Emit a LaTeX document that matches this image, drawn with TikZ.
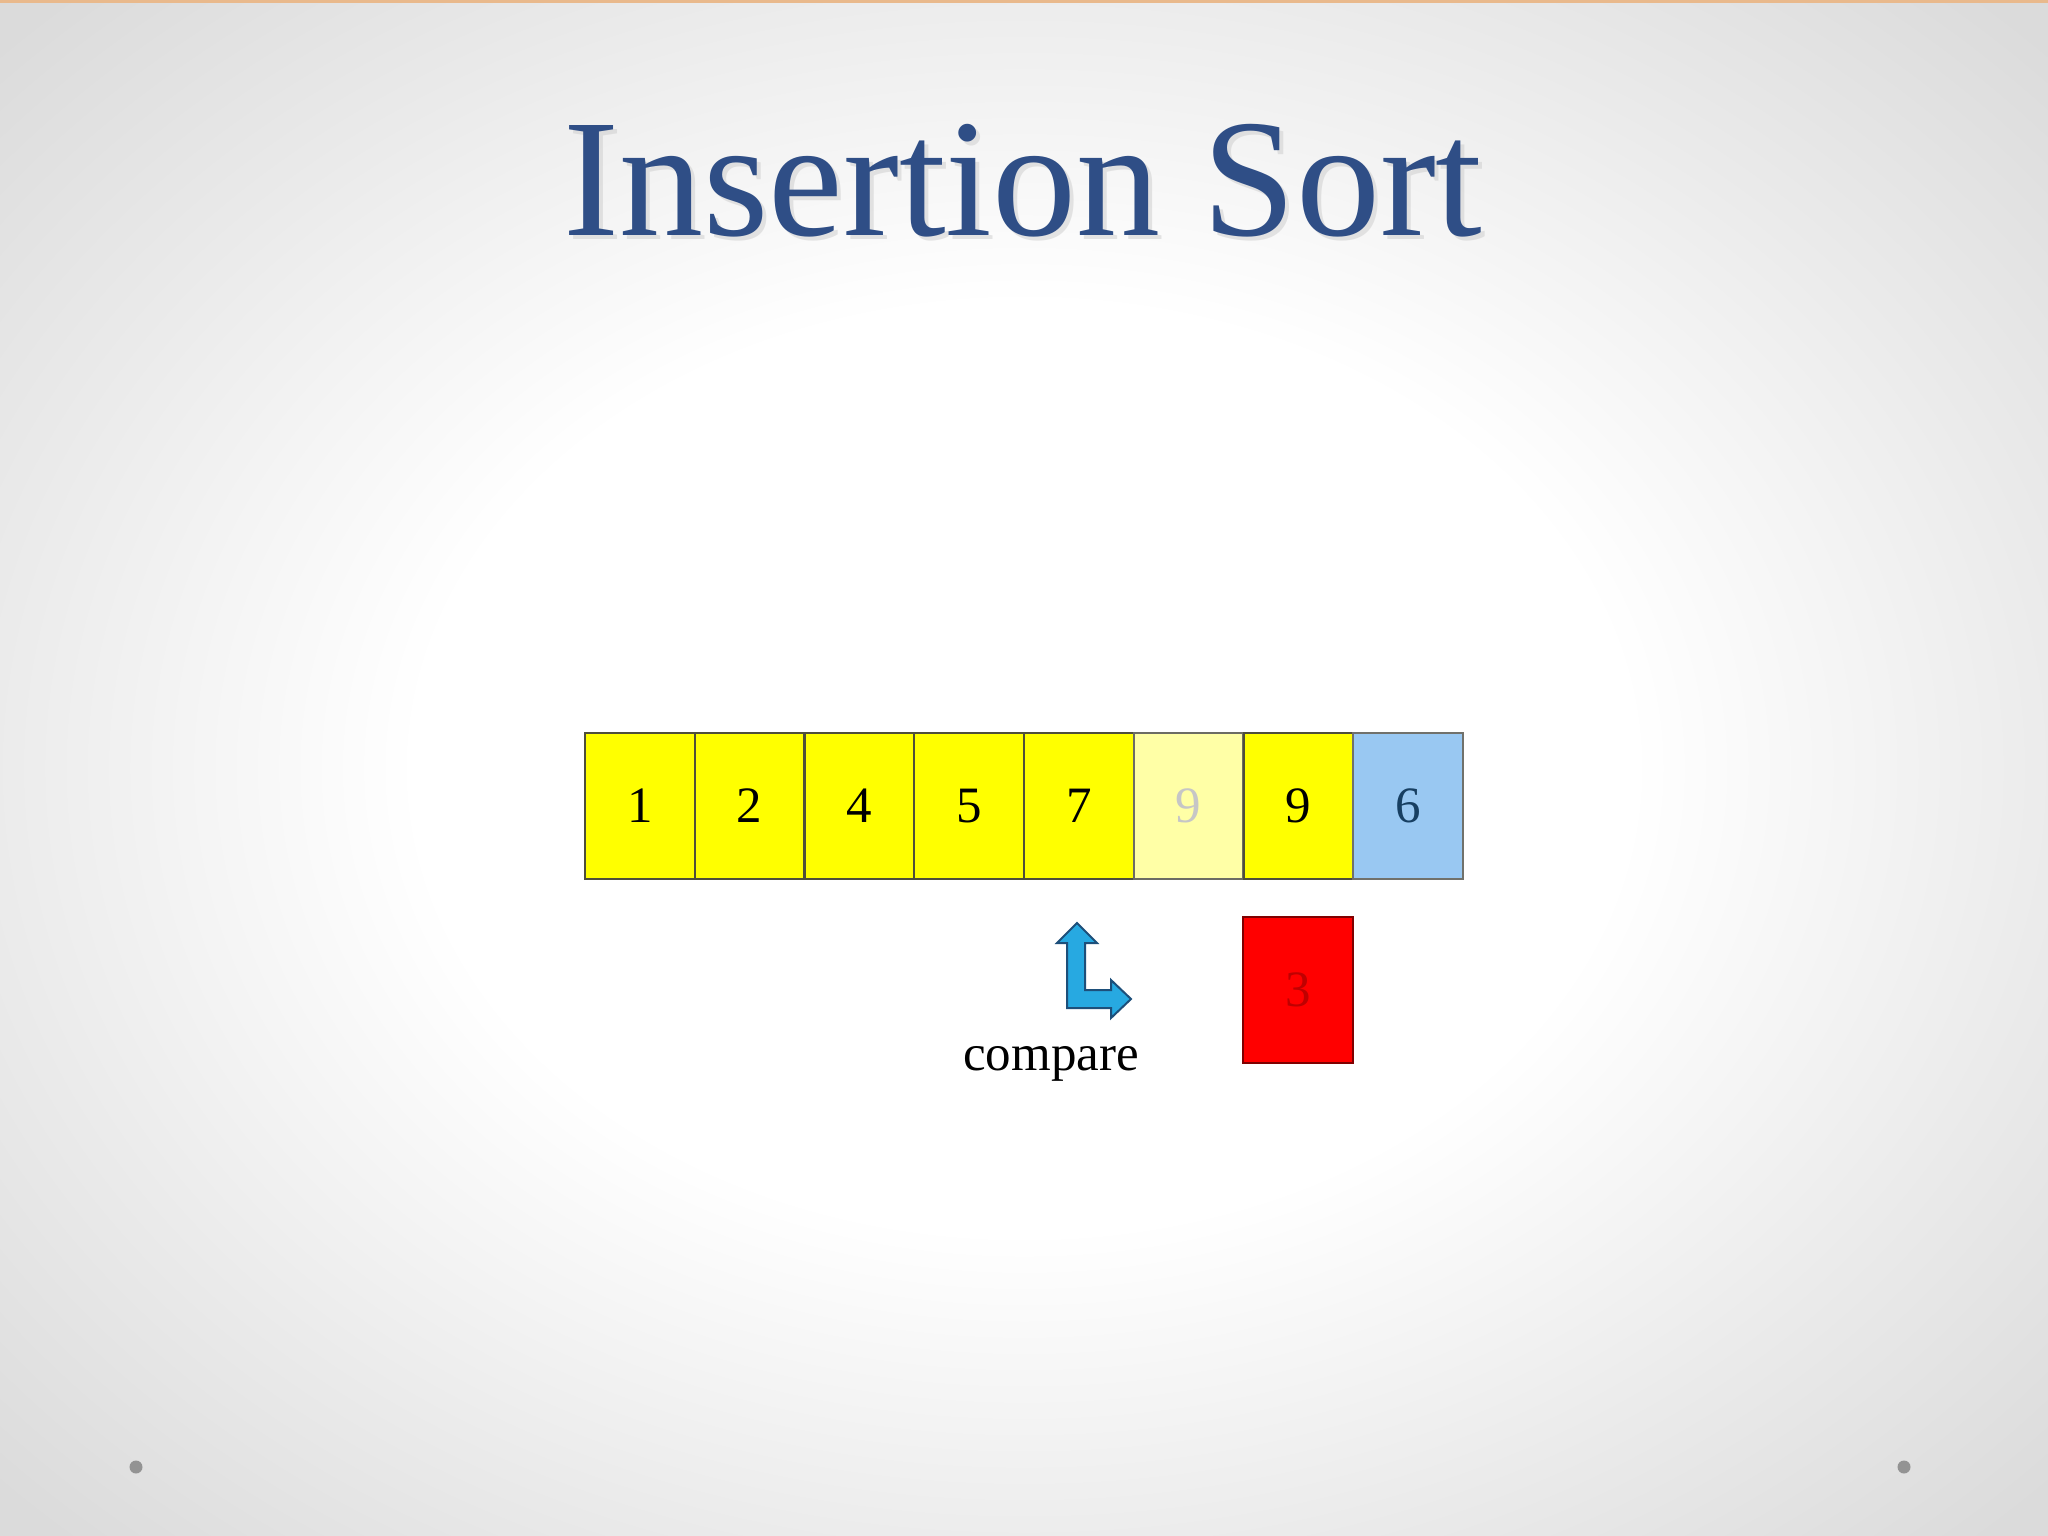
\documentclass[tikz,border=0pt]{standalone}
\usepackage{fontspec}
\setmainfont{Liberation Serif}
\definecolor{titleblue}{HTML}{2F4E86}
\definecolor{cellyellow}{HTML}{FFFF00}
\definecolor{paleyellow}{HTML}{FFFFA6}
\definecolor{cellblue}{HTML}{99C8F2}
\definecolor{cellred}{HTML}{FF0000}
\definecolor{edgecol}{HTML}{4F4F3A}
\definecolor{arrowfill}{HTML}{27A9E1}
\definecolor{arrowedge}{HTML}{1D4F7A}
\definecolor{topline}{HTML}{E9B98C}
\pgfdeclareradialshading{bgshade}{\pgfpoint{0bp}{0bp}}{color(0bp)=(white); color(14bp)=(white); color(24bp)=(black!8); color(32bp)=(black!14); color(50bp)=(black!16)}
\tikzset{
  cell/.style={draw=edgecol, line width=2pt, minimum width=109.75pt, minimum height=146pt, inner sep=0pt, font=\fontsize{51}{51}\selectfont, anchor=center},
  dotmark/.style={circle, fill=gray!85, minimum size=13pt, inner sep=0pt}
}
\begin{document}
\begin{tikzpicture}[x=1pt,y=-1pt]
\useasboundingbox (0,0) rectangle (2048,1536);
\shade[shading=bgshade] (-60,-60) rectangle (2108,1596);
\fill[topline] (0,0) rectangle (2048,3);
% title
\node[anchor=base, inner sep=0pt, text=gray!40, opacity=0.5, font=\fontsize{168}{168}\selectfont] at (1027,239) {Insertion Sort};
\node (title) [anchor=base, inner sep=0pt, text=titleblue, font=\fontsize{168}{168}\selectfont] at (1023,235) {Insertion Sort};
% cells
\node (c1) [cell, fill=cellyellow] at (639.9,806) {1};
\node (c2) [cell, fill=cellyellow] at (749.6,806) {2};
\node (c3) [cell, fill=cellyellow] at (859.4,806) {4};
\node (c4) [cell, fill=cellyellow] at (969.1,806) {5};
\node (c5) [cell, fill=cellyellow] at (1078.9,806) {7};
\node (c6) [cell, fill=paleyellow, draw=gray!60!edgecol, text=gray!45] at (1188.6,806) {9};
\node (c7) [cell, fill=cellyellow] at (1298.4,806) {9};
\node (c8) [cell, fill=cellblue, draw=gray!70!edgecol, text=arrowedge!80!black] at (1408.1,806) {6};
% red box
\node (red) [cell, fill=cellred, draw=red!50!black, text=red!75!black] at (1298,990) {3};
% compare arrow
\filldraw[fill=arrowfill, draw=arrowedge, line width=2pt, line join=miter]
  (1077,923) -- (1097,943) -- (1085,943) -- (1085,990) -- (1111,990) -- (1111,980) -- (1131,999)
  -- (1111,1018) -- (1111,1008) -- (1067,1008) -- (1067,943) -- (1057,943) -- cycle;
\node (cmp) [anchor=base, inner sep=0pt, font=\fontsize{51}{51}\selectfont] at (1051,1070) {compare};
% dots
\node (d1) [dotmark] at (136,1467) {};
\node (d2) [dotmark] at (1904,1467) {};
\end{tikzpicture}
\end{document}
